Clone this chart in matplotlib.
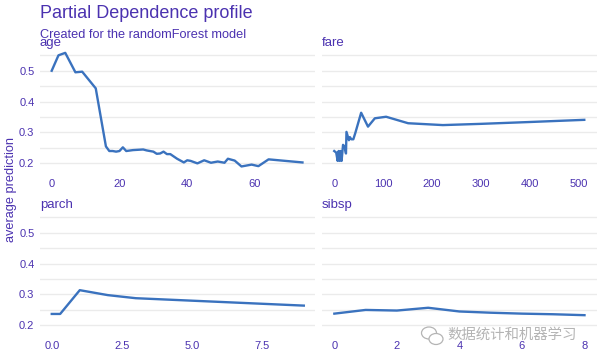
#Partial Dependence profile - randomForest model, four panels
import matplotlib
matplotlib.use('Agg')
import matplotlib.pyplot as plt
from matplotlib.patches import Ellipse

#DATA
age_x = [0, 2, 4, 7, 9, 13, 16, 17, 18, 19, 20, 21, 22, 24, 27, 28, 30, 31, 32, 33, 34, 35, 37, 39, 40, 41, 43, 45, 47, 49, 51, 52, 54, 56, 59, 61, 64, 74]
age_y = [0.5, 0.55, 0.558, 0.495, 0.497, 0.443, 0.255, 0.24, 0.24, 0.238, 0.24, 0.252, 0.24, 0.243, 0.245, 0.242, 0.238, 0.231, 0.232, 0.238, 0.23, 0.23, 0.215, 0.203, 0.21, 0.208, 0.2, 0.21, 0.202, 0.206, 0.202, 0.215, 0.209, 0.19, 0.196, 0.191, 0.213, 0.203]
fare_x = [0, 4, 7, 9, 11, 13, 15, 18, 21, 24, 25, 30, 32, 35, 39, 43, 55, 69, 83, 106, 151, 222, 300, 400, 511]
fare_y = [0.24, 0.235, 0.208, 0.24, 0.208, 0.24, 0.208, 0.26, 0.255, 0.232, 0.302, 0.275, 0.285, 0.278, 0.278, 0.298, 0.364, 0.319, 0.346, 0.351, 0.33, 0.324, 0.328, 0.334, 0.341]
parch_x = [0, 0.3, 1, 2, 3, 4, 5, 6, 7, 8, 9]
parch_y = [0.237, 0.237, 0.314, 0.298, 0.288, 0.284, 0.28, 0.276, 0.272, 0.268, 0.264]
sibsp_x = [0, 1, 2, 3, 4, 5, 6, 7, 8]
sibsp_y = [0.238, 0.25, 0.248, 0.257, 0.245, 0.241, 0.238, 0.236, 0.233]
titles = ['age', 'fare', 'parch', 'sibsp']
xticks = [[0, 20, 40, 60], [0, 100, 200, 300, 400, 500], [0, 2.5, 5, 7.5], [0, 2, 4, 6, 8]]
xticklabels = [['0', '20', '40', '60'], ['0', '100', '200', '300', '400', '500'],
               ['0.0', '2.5', '5.0', '7.5'], ['0', '2', '4', '6', '8']]
ygrid = [0.2, 0.25, 0.3, 0.35, 0.4, 0.45, 0.5, 0.55]

TXT = '#4b32b0'
LINE = '#3a72be'
WM = '#b4b4b4'
W, H = 600, 362

plt.rcParams['font.family'] = ['Liberation Sans', 'Noto Sans CJK SC', 'DejaVu Sans']
fig = plt.figure(figsize=(W/100, H/100), dpi=100)

#left, top, right, bottom of each panel in pixels
boxes = [(40, 53, 315, 168), (322, 53, 597, 168), (40, 215, 315, 330), (322, 215, 597, 330)]
xlims = [(-3.45, 77.7), (-25, 537), (-0.42, 9.4), (-0.395, 8.4)]
xs = [age_x, fare_x, parch_x, sibsp_x]
ys = [age_y, fare_y, parch_y, sibsp_y]

for i in range(4):
    l, t, r, b = boxes[i]
    ax = fig.add_axes([l/W, 1 - b/H, (r-l)/W, (b-t)/H])
    ax.plot(xs[i], ys[i], color=LINE, linewidth=1.7, clip_on=False, zorder=3)
    ax.set_xlim(xlims[i])
    ax.set_ylim(0.185, 0.5575)
    ax.set_yticks(ygrid)
    ax.set_yticklabels(['0.2', '', '0.3', '', '0.4', '', '0.5', ''] if i % 2 == 0 else [''] * 8)
    ax.set_xticks(xticks[i])
    ax.set_xticklabels(xticklabels[i])
    ax.grid(axis='y', color='#ebebeb', linewidth=1.0)
    ax.grid(axis='x', visible=False)
    ax.set_axisbelow(True)
    ax.tick_params(length=0, labelsize=8, labelcolor=TXT, pad=8)
    ax.tick_params(axis='y', pad=4)
    for s in ax.spines.values():
        s.set_visible(False)
    ax.text(0, 1.035, titles[i], transform=ax.transAxes, fontsize=9.5, color=TXT, va='bottom')

fig.text(40/W, 1 - 14/H, 'Partial Dependence profile', fontsize=13, color=TXT, va='center')
fig.text(40/W, 1 - 35/H, 'Created for the randomForest model', fontsize=9.2, color=TXT, va='center')
fig.text(11/W, 1 - 190/H, 'average prediction', fontsize=9.2, color=TXT, rotation=90, va='center', ha='center')

#watermark
icon = fig.add_axes([0, 0, 1, 1], facecolor='none')
icon.set_xlim(0, W)
icon.set_ylim(H, 0)
icon.axis('off')
icon.add_patch(Ellipse((429, 333), 15, 12, fill=False, edgecolor=WM, linewidth=0.9))
icon.add_patch(Ellipse((436, 339), 14, 11, facecolor='white', edgecolor=WM, linewidth=0.9))
icon.text(512, 335, '数据统计和机器学习', fontsize=10.4, color=WM, va='center', ha='center',
          family=['Noto Sans CJK SC', 'DejaVu Sans'])

fig.savefig('out.png', dpi=100)
